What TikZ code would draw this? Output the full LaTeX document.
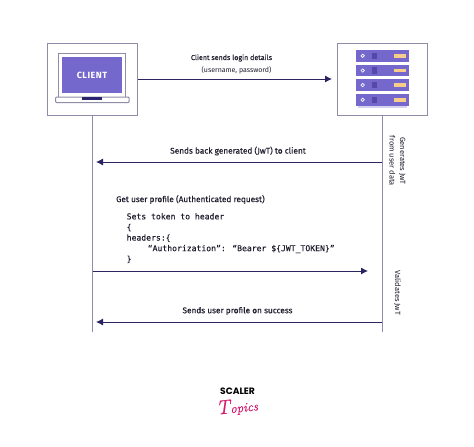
\documentclass[tikz,border=0pt]{standalone}
\usepackage{fontspec}
\setmainfont{Fira Sans}
\setmonofont{DejaVu Sans Mono}
\newfontfamily\brandfont{Poppins}
\newfontfamily\handfont[FakeBold=0.4]{Latin Modern Roman}
\newfontfamily\semifont[FakeBold=0.35]{Fira Sans}
\newfontfamily\codefont[FakeBold=0.15]{DejaVu Sans Mono}
\definecolor{frame}{HTML}{8E8CA6}
\definecolor{arrowc}{HTML}{2A2560}
\definecolor{violet}{HTML}{7468CC}
\definecolor{violetd}{HTML}{5548A8}
\definecolor{violetl}{HTML}{D6D2F0}
\definecolor{navy}{HTML}{2A2370}
\definecolor{amber}{HTML}{F8CD8A}
\definecolor{txt}{HTML}{1E1E2E}
\definecolor{pinkc}{HTML}{D81B72}
\usetikzlibrary{arrows.meta}
\tikzset{
 boxs/.style={draw=frame,line width=1pt,fill=white},
 life/.style={draw=frame,line width=1pt},
 msg/.style={draw=arrowc,line width=.9pt,-{Latex[length=7pt,width=7pt]}},
 lab/.style={text=txt,font=\semifont\fontsize{8.25}{9}\selectfont,inner sep=0pt},
 lab small/.style={text=txt,font=\semifont\fontsize{7.1}{9}\selectfont,inner sep=0pt},
 sub/.style={text=txt,font=\fontsize{7}{8}\selectfont,inner sep=0pt},
 side/.style={text=txt,font=\fontsize{7.5}{10.5}\selectfont,inner sep=0pt,rotate=-90,align=center},
 code/.style={text=txt,font=\codefont\fontsize{8.1}{10.6}\selectfont,inner sep=0pt,align=left,anchor=north west},
 rack/.style={fill=violet,draw=none},
}
\begin{document}
\begin{tikzpicture}[x=1pt,y=-1pt]
\useasboundingbox[fill=white] (0,0) rectangle (474,447);
% boxes
\node[boxs,minimum width=90pt,minimum height=72pt,inner sep=0pt] (client) at (92.5,79) {};
\node[boxs,minimum width=90pt,minimum height=72pt,inner sep=0pt] (server) at (382,79) {};
% lifeline ends
\coordinate (cend) at (92.5,332);
\coordinate (send) at (382,332);
\draw[life] (client.south) -- (cend);
\draw[life] (server.south) -- (send);
% laptop
\draw[draw=frame,line width=1pt,fill=white] (58.5,53.5) rectangle (125.5,97);
\fill[violet] (62,56.7) rectangle (121.7,93);
\node[text=white,font=\fontsize{9}{10}\selectfont\bfseries,inner sep=0pt] (clienttext) at (92,75.5) {C\kern.5pt L\kern.5pt I\kern.5pt E\kern.5pt N\kern.5pt T};
\draw[draw=frame,line width=1pt,fill=white,rounded corners=.8pt] (55.7,97) rectangle (129,102.5);
\fill[navy] (82,97.2) rectangle (102,100);
% server racks
\fill[violetl] (358,100) rectangle (407,107.5);
\foreach \y in {50,64.7,79.3,94}{
  \fill[rack] (356,\y) rectangle (409.3,\y+11.7);
  \fill[violetd] (371.7,\y+2.5) rectangle (377.3,\y+9);
  \draw[white,line width=.7pt] (362.7,\y+5.8) circle (1.7pt);
  \fill[amber] (394,\y+4) rectangle (406,\y+7.5);
}
% messages
\coordinate (a1) at (332,79);
\draw[msg] (client.east |- a1) -- (a1);
\coordinate (b1) at (382,162); \coordinate (b2) at (96,162);
\draw[msg] (b1) -- (b2);
\coordinate (c1) at (92.5,271); \coordinate (c2) at (368,271);
\draw[msg] (c1) -- (c2);
\coordinate (d1) at (382,322); \coordinate (d2) at (96,322);
\draw[msg] (d1) -- (d2);
% labels
\node[lab small] (l1) at (231.5,58) {Client sends login details};
\node[sub] (l1b) at (236.5,70.5) {(username, password)};
\node[lab] (l2) at (238,151) {Sends back generated (JwT) to client};
\node[lab,anchor=west] (l3) at (116,199.5) {Get user profile (Authenticated request)};
\node[code] (codeblk) at (126.5,213) {Sets token to header\\\{\\headers:\{\\\hspace*{2.6em}“Authorization”: “Bearer \$\{JWT\_TOKEN\}”\\\}};
\node[lab] (l4) at (237.5,311) {Sends user profile on success};
\node[side] (s1) at (397.5,161) {Generates JwT\\from user data};
\node[side] (s2) at (397.5,293) {Validates JwT};
% logo
\node[text=black,font=\brandfont\fontsize{9.2}{10}\selectfont\bfseries,inner sep=0pt] (scaler) at (237.5,391.5) {SCALER};
\node[text=pinkc,font=\handfont\itshape\fontsize{13}{14}\selectfont,inner sep=0pt,rotate=6,anchor=center] (topics) at (237,407) {{\fontsize{20}{20}\selectfont T}opics};
\end{tikzpicture}
\end{document}
